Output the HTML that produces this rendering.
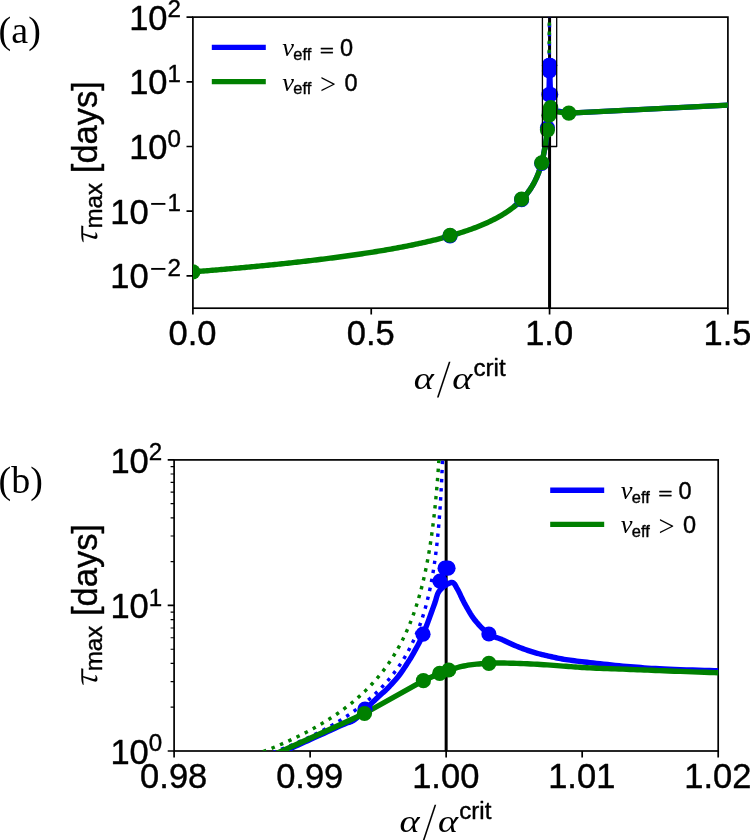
<!DOCTYPE html>
<html><head><meta charset="utf-8"><title>tau max vs alpha</title>
<style>html,body{margin:0;padding:0;background:#fff;overflow:hidden}svg{display:block}.tk{font-family:"Liberation Sans",Arial,sans-serif;fill:#000}.mi{font-family:"Liberation Serif","Times New Roman",serif;font-style:italic}.rm{font-family:"Liberation Serif","Times New Roman",serif}.dj{font-family:"DejaVu Sans",sans-serif}text.s{stroke:#000;stroke-width:0.40px;stroke-linejoin:round}</style></head><body>
<svg width="750" height="840" viewBox="0 0 750 840">
<rect width="750" height="840" fill="#fff"/>
<defs><clipPath id="ca"><rect x="192.90" y="17.10" width="535.00" height="291.10"/></clipPath>
<clipPath id="cb"><rect x="174.10" y="459.90" width="544.10" height="291.10"/></clipPath></defs>
<rect x="192.90" y="17.10" width="535.00" height="291.10" fill="none" stroke="#000" stroke-width="1.70"/>
<rect x="174.10" y="459.90" width="544.10" height="291.10" fill="none" stroke="#000" stroke-width="1.70"/>
<g clip-path="url(#ca)" fill="none" stroke-linejoin="round">
<line x1="549.57" y1="17.10" x2="549.57" y2="308.20" stroke="#000" stroke-width="3.00"/>
<polyline points="513.90,205.64 514.71,204.99 515.51,204.34 516.28,203.69 517.04,203.05 517.78,202.40 518.50,201.75 519.21,201.10 519.90,200.45 520.58,199.80 521.24,199.15 521.88,198.50 522.51,197.85 523.13,197.20 523.73,196.55 524.32,195.90 524.89,195.25 525.45,194.60 526.00,193.95 526.54,193.30 527.06,192.65 527.57,192.00 528.08,191.35 528.56,190.70 529.04,190.05 529.51,189.40 529.97,188.75 530.41,188.10 530.85,187.45 531.27,186.80 531.69,186.14 532.10,185.49 532.50,184.84 532.88,184.19 533.26,183.54 533.63,182.89 534.00,182.24 534.35,181.58 534.70,180.93 535.04,180.28 535.37,179.63 535.69,178.98 536.01,178.32 536.32,177.67 536.62,177.02 536.91,176.37 537.20,175.71 537.48,175.06 537.76,174.41 538.03,173.75 538.29,173.10 538.54,172.45 538.80,171.79 539.04,171.14 539.28,170.49 539.51,169.83 539.74,169.18 539.97,168.52 540.19,167.87 540.40,167.21 540.61,166.56 540.81,165.90 541.01,165.25 541.21,164.59 541.40,163.94 541.58,163.28 541.76,162.62 541.94,161.97 542.11,161.31 542.28,160.65 542.45,160.00 542.61,159.34 542.77,158.68 542.93,158.02 543.08,157.37 543.22,156.71 543.37,156.05 543.51,155.39 543.65,154.73 543.78,154.07 543.91,153.41 544.04,152.75 544.17,152.09 544.29,151.43 544.41,150.77 544.53,150.11 544.64,149.45 544.76,148.79 544.86,148.12 544.97,147.46 545.08,146.80 545.18,146.13 545.28,145.47 545.38,144.81 545.47,144.14 545.56,143.48 545.66,142.81 545.74,142.15 545.83,141.48 545.92,140.81 546.00,140.15 546.08,139.48 546.16,138.81 546.24,138.14 546.31,137.47 546.39,136.81 546.46,136.14 546.53,135.47 546.60,134.79 546.67,134.12 546.73,133.45 546.80,132.78 546.86,132.11 546.92,131.43 546.98,130.76 547.04,130.08 547.10,129.41 547.16,128.73 547.21,128.05 547.26,127.38 547.32,126.70 547.37,126.02 547.42,125.34 547.47,124.66 547.51,123.98 547.56,123.30 547.61,122.61 547.65,121.93 547.69,121.25 547.74,120.56 547.78,119.88 547.82,119.19 547.86,118.50 547.90,117.81 547.94,117.12 547.97,116.43 548.01,115.74 548.05,115.05 548.08,114.36 548.11,113.66 548.15,112.97 548.18,112.27 548.21,111.58 548.24,110.88 548.27,110.18 548.30,109.48 548.33,108.78 548.36,108.07 548.39,107.37 548.41,106.66 548.44,105.96 548.46,105.25 548.49,104.54 548.51,103.83 548.54,103.12 548.56,102.41 548.58,101.69 548.61,100.98 548.63,100.26 548.65,99.54 548.67,98.82 548.69,98.10 548.71,97.38 548.73,96.65 548.75,95.92 548.77,95.20 548.79,94.47 548.80,93.74 548.82,93.00 548.84,92.27 548.86,91.53 548.87,90.79 548.89,90.05 548.90,89.31 548.92,88.57 548.93,87.82 548.95,87.07 548.96,86.32 548.97,85.57 548.99,84.82 549.00,84.06 549.01,83.31 549.03,82.55 549.04,81.78 549.05,81.02 549.06,80.25 549.07,79.48 549.09,78.71 549.10,77.94 549.11,77.16 549.12,76.39 549.13,75.61 549.14,74.82 549.15,74.04 549.16,73.25 549.17,72.46 549.18,71.66 549.18,70.87 549.19,70.07 549.20,69.27 549.21,68.47 549.22,67.66 549.23,66.85 549.23,66.04 549.24,65.22 549.25,64.40 549.26,63.58 549.26,62.76 549.27,61.93 549.28,61.10 549.28,60.27 549.29,59.43 549.30,58.59 549.30,57.75 549.31,56.91 549.31,56.06 549.32,55.21 549.33,54.35 549.33,53.49 549.34,52.63 549.34,51.77 549.35,50.90 549.35,50.03 549.36,49.15 549.36,48.27 549.37,47.39 549.37,46.51 549.38,45.62 549.38,44.73 549.38,43.83 549.39,42.93 549.39,42.03 549.40,41.12 549.40,40.21 549.40,39.30 549.41,38.38 549.41,37.46 549.41,36.54 549.42,35.61 549.42,34.68 549.42,33.74 549.43,32.80 549.43,31.86 549.43,30.91 549.44,29.96 549.44,29.01 549.44,28.05 549.45,27.09 549.45,26.13 549.45,25.16 549.45,24.18 549.46,23.21 549.46,22.23 549.46,21.24 549.46,20.26 549.47,19.27 549.47,18.27 549.47,17.27 549.47,16.27 549.47,15.26 549.48,14.26 549.48,13.24 549.48,12.23 549.48,11.20 549.48,10.18 549.49,9.15 549.49,8.12 549.49,7.09 549.49,6.05 549.49,5.01 549.50,3.96 549.50,2.91 549.50,1.86 549.50,0.80 549.50,-0.26 549.50,-1.32 549.50,-2.39 549.51,-3.46 549.51,-4.53 549.51,-5.61 549.51,-6.69 549.51,-7.77 549.51,-8.85 549.51,-9.94 549.52,-11.04 549.52,-12.13 549.52,-13.23 549.52,-14.33 549.52,-15.44 549.52,-16.55 549.52,-17.66 549.52,-18.77 549.52,-19.89 549.52,-21.01 549.53,-22.13 549.53,-23.26 549.53,-24.39 549.53,-25.52 549.53,-26.65 549.53,-27.79 549.53,-28.93 549.53,-30.07 549.53,-31.22 549.53,-32.37 549.53,-33.52 549.53,-34.67 549.54,-35.83 549.54,-36.98 549.54,-38.15 549.54,-39.31 549.54,-40.47 549.54,-41.64 549.54,-42.81 549.54,-43.98 549.54,-45.16 549.54,-46.33 549.54,-47.51 549.54,-48.69 549.54,-49.88 549.54,-51.06 549.54,-52.25 549.54,-53.44 549.55,-54.63 549.55,-55.82 549.55,-57.02 549.55,-58.22 549.55,-59.42 549.55,-60.62 549.55,-61.82 549.55,-63.02 549.55,-64.23 549.55,-65.44 549.55,-66.65 549.55,-67.86 549.55,-69.07 549.55,-70.29 549.55,-71.50 549.55,-72.72 549.55,-73.94 549.55,-75.16 549.55,-76.38 549.55,-77.61 549.55,-78.83 549.55,-80.06 549.55,-81.29 549.55,-82.52 549.55,-83.75 549.55,-84.98 549.55,-86.21 549.56,-87.45 549.56,-88.68 549.56,-89.92 549.56,-91.16 549.56,-92.40 549.56,-93.64 549.56,-94.88 549.56,-96.12 549.56,-97.37 549.56,-98.61 549.56,-99.86 549.56,-101.10 549.56,-102.35 549.56,-103.60 549.56,-104.85 549.56,-106.10 549.56,-107.35 549.56,-108.60 549.56,-109.86 549.56,-111.11 549.56,-112.37 549.56,-113.62 549.56,-114.88 549.56,-116.14 549.56,-117.39 549.56,-118.65 549.56,-119.91 549.56,-121.17 549.56,-122.43 549.56,-123.70 549.56,-124.96 549.56,-126.22 549.56,-127.49 549.56,-128.75 549.56,-130.02 549.56,-131.28 549.56,-132.55 549.56,-133.82 549.56,-135.08 549.56,-136.35 549.56,-137.62 549.56,-138.89 549.56,-140.16 549.56,-141.43 549.56,-142.70 549.56,-143.97 549.56,-145.24 549.56,-146.52 549.56,-147.79 549.56,-149.06 549.56,-150.34 549.56,-151.61" stroke="#0000ff" stroke-width="3.44" stroke-dasharray="3.44 5.68" stroke-dashoffset="3.37"/>
<polyline points="513.90,206.31 514.71,205.65 515.51,204.99 516.28,204.34 517.04,203.68 517.78,203.01 518.50,202.35 519.21,201.69 519.90,201.03 520.58,200.37 521.24,199.71 521.88,199.05 522.51,198.38 523.13,197.72 523.73,197.06 524.32,196.39 524.89,195.73 525.45,195.07 526.00,194.40 526.54,193.74 527.06,193.07 527.57,192.40 528.08,191.74 528.56,191.07 529.04,190.40 529.51,189.74 529.97,189.07 530.41,188.40 530.85,187.73 531.27,187.06 531.69,186.39 532.10,185.72 532.50,185.05 532.88,184.38 533.26,183.70 533.63,183.03 534.00,182.36 534.35,181.68 534.70,181.01 535.04,180.33 535.37,179.66 535.69,178.98 536.01,178.30 536.32,177.62 536.62,176.95 536.91,176.27 537.20,175.59 537.48,174.91 537.76,174.22 538.03,173.54 538.29,172.86 538.54,172.17 538.80,171.49 539.04,170.80 539.28,170.12 539.51,169.43 539.74,168.74 539.97,168.05 540.19,167.36 540.40,166.67 540.61,165.98 540.81,165.29 541.01,164.59 541.21,163.90 541.40,163.20 541.58,162.50 541.76,161.81 541.94,161.11 542.11,160.41 542.28,159.71 542.45,159.00 542.61,158.30 542.77,157.59 542.93,156.89 543.08,156.18 543.22,155.47 543.37,154.76 543.51,154.05 543.65,153.34 543.78,152.62 543.91,151.91 544.04,151.19 544.17,150.47 544.29,149.75 544.41,149.03 544.53,148.31 544.64,147.59 544.76,146.86 544.86,146.13 544.97,145.40 545.08,144.67 545.18,143.94 545.28,143.20 545.38,142.47 545.47,141.73 545.56,140.99 545.66,140.25 545.74,139.51 545.83,138.76 545.92,138.01 546.00,137.26 546.08,136.51 546.16,135.76 546.24,135.00 546.31,134.25 546.39,133.49 546.46,132.73 546.53,131.96 546.60,131.20 546.67,130.43 546.73,129.66 546.80,128.88 546.86,128.11 546.92,127.33 546.98,126.55 547.04,125.77 547.10,124.98 547.16,124.20 547.21,123.40 547.26,122.61 547.32,121.82 547.37,121.02 547.42,120.22 547.47,119.41 547.51,118.61 547.56,117.80 547.61,116.99 547.65,116.17 547.69,115.36 547.74,114.54 547.78,113.71 547.82,112.89 547.86,112.06 547.90,111.22 547.94,110.39 547.97,109.55 548.01,108.71 548.05,107.86 548.08,107.02 548.11,106.17 548.15,105.31 548.18,104.45 548.21,103.59 548.24,102.73 548.27,101.86 548.30,100.99 548.33,100.12 548.36,99.24 548.39,98.36 548.41,97.47 548.44,96.58 548.46,95.69 548.49,94.80 548.51,93.90 548.54,93.00 548.56,92.09 548.58,91.18 548.61,90.27 548.63,89.35 548.65,88.43 548.67,87.51 548.69,86.58 548.71,85.65 548.73,84.72 548.75,83.78 548.77,82.84 548.79,81.89 548.80,80.94 548.82,79.99 548.84,79.03 548.86,78.07 548.87,77.10 548.89,76.14 548.90,75.16 548.92,74.19 548.93,73.21 548.95,72.23 548.96,71.24 548.97,70.25 548.99,69.26 549.00,68.26 549.01,67.26 549.03,66.25 549.04,65.24 549.05,64.23 549.06,63.21 549.07,62.19 549.09,61.17 549.10,60.14 549.11,59.11 549.12,58.08 549.13,57.04 549.14,56.00 549.15,54.95 549.16,53.91 549.17,52.85 549.18,51.80 549.18,50.74 549.19,49.68 549.20,48.61 549.21,47.54 549.22,46.47 549.23,45.39 549.23,44.31 549.24,43.23 549.25,42.15 549.26,41.06 549.26,39.97 549.27,38.87 549.28,37.77 549.28,36.67 549.29,35.57 549.30,34.46 549.30,33.35 549.31,32.23 549.31,31.12 549.32,30.00 549.33,28.87 549.33,27.75 549.34,26.62 549.34,25.49 549.35,24.36 549.35,23.22 549.36,22.08 549.36,20.94 549.37,19.79 549.37,18.64 549.38,17.49 549.38,16.34 549.38,15.19 549.39,14.03 549.39,12.87 549.40,11.71 549.40,10.54 549.40,9.37 549.41,8.21 549.41,7.03 549.41,5.86 549.42,4.68 549.42,3.50 549.42,2.32 549.43,1.14 549.43,-0.04 549.43,-1.23 549.44,-2.42 549.44,-3.61 549.44,-4.80 549.45,-6.00 549.45,-7.20 549.45,-8.39 549.45,-9.60 549.46,-10.80 549.46,-12.00 549.46,-13.21 549.46,-14.42 549.47,-15.62 549.47,-16.84 549.47,-18.05 549.47,-19.26 549.47,-20.48 549.48,-21.70 549.48,-22.92 549.48,-24.14 549.48,-25.36 549.48,-26.58 549.49,-27.81 549.49,-29.03 549.49,-30.26 549.49,-31.49 549.49,-32.72 549.50,-33.95 549.50,-35.18 549.50,-36.42 549.50,-37.65 549.50,-38.89 549.50,-40.13 549.50,-41.37 549.51,-42.61 549.51,-43.85 549.51,-45.09 549.51,-46.34 549.51,-47.58 549.51,-48.83 549.51,-50.07 549.52,-51.32 549.52,-52.57 549.52,-53.82 549.52,-55.07 549.52,-56.32 549.52,-57.57 549.52,-58.82 549.52,-60.08 549.52,-61.33 549.52,-62.59 549.53,-63.85 549.53,-65.10 549.53,-66.36 549.53,-67.62 549.53,-68.88 549.53,-70.14 549.53,-71.40 549.53,-72.66 549.53,-73.93 549.53,-75.19 549.53,-76.45 549.53,-77.72 549.54,-78.98 549.54,-80.25 549.54,-81.51 549.54,-82.78 549.54,-84.05 549.54,-85.32 549.54,-86.59 549.54,-87.85 549.54,-89.12 549.54,-90.40 549.54,-91.67 549.54,-92.94 549.54,-94.21 549.54,-95.48 549.54,-96.75 549.54,-98.03 549.55,-99.30 549.55,-100.58 549.55,-101.85 549.55,-103.12 549.55,-104.40 549.55,-105.68 549.55,-106.95 549.55,-108.23 549.55,-109.51 549.55,-110.78 549.55,-112.06 549.55,-113.34 549.55,-114.62 549.55,-115.90 549.55,-117.17 549.55,-118.45 549.55,-119.73 549.55,-121.01 549.55,-122.29 549.55,-123.58 549.55,-124.86 549.55,-126.14 549.55,-127.42 549.55,-128.70 549.55,-129.98 549.55,-131.27 549.55,-132.55 549.56,-133.83 549.56,-135.11 549.56,-136.40 549.56,-137.68 549.56,-138.96 549.56,-140.25 549.56,-141.53 549.56,-142.82 549.56,-144.10 549.56,-145.39 549.56,-146.67 549.56,-147.96 549.56,-149.24 549.56,-150.53 549.56,-151.81 549.56,-153.10 549.56,-154.39 549.56,-155.67 549.56,-156.96 549.56,-158.25 549.56,-159.53 549.56,-160.82 549.56,-162.11 549.56,-163.39 549.56,-164.68 549.56,-165.97 549.56,-167.26 549.56,-168.54 549.56,-169.83 549.56,-171.12 549.56,-172.41 549.56,-173.70 549.56,-174.99 549.56,-176.27 549.56,-177.56 549.56,-178.85 549.56,-180.14 549.56,-181.43 549.56,-182.72 549.56,-184.01 549.56,-185.30 549.56,-186.59 549.56,-187.88 549.56,-189.17 549.56,-190.46 549.56,-191.75 549.56,-193.04 549.56,-194.33 549.56,-195.62 549.56,-196.91 549.56,-198.20 549.56,-199.49" stroke="#008000" stroke-width="3.44" stroke-dasharray="3.44 5.68" stroke-dashoffset="1.59"/>
<polyline points="513.90,206.78 514.26,206.50 514.61,206.21 514.97,205.92 515.33,205.62 515.68,205.32 516.04,205.02 516.40,204.71 516.75,204.40 517.11,204.09 517.47,203.78 517.82,203.46 518.18,203.13 518.54,202.81 518.89,202.48 519.25,202.14 519.61,201.80 519.96,201.46 520.32,201.12 520.68,200.76 521.03,200.41 521.39,200.05 521.75,199.68 522.10,199.31 522.46,198.94 522.82,198.56 523.17,198.18 523.53,197.79 523.89,197.39 524.24,196.99 524.60,196.58 524.96,196.17 525.31,195.75 525.67,195.32 526.03,194.89 526.38,194.45 526.74,194.01 527.10,193.55 527.45,193.09 527.81,192.63 528.17,192.15 528.52,191.67 528.88,191.17 529.24,190.67 529.59,190.16 529.95,189.64 530.31,189.11 530.66,188.57 531.02,188.02 531.38,187.46 531.73,186.89 532.09,186.30 532.45,185.70 532.80,185.09 533.16,184.47 533.52,183.83 533.87,183.18 534.23,182.51 534.59,181.83 534.94,181.13 535.30,180.41 535.66,179.67 536.01,178.91 536.37,178.13 536.73,177.33 537.08,176.51 537.44,175.66 537.80,174.78 538.15,173.88 538.51,172.94 538.87,171.98 539.22,170.98 539.58,169.94 539.94,168.87 540.29,167.75 540.65,166.58 541.01,165.37 541.36,164.10 541.72,162.77 542.08,161.37 542.43,159.91 542.79,158.36 543.15,156.72 543.50,154.99 543.86,153.14 544.22,151.16 544.57,149.04 544.93,146.74 545.13,148.02 545.17,147.74 545.21,147.42 545.26,147.06 545.32,146.63 545.38,146.15 545.45,145.61 545.53,145.04 545.61,144.44 545.69,143.81 545.77,143.18 545.85,142.54 545.93,141.90 546.02,141.28 546.10,140.64 546.19,139.97 546.28,139.27 546.37,138.56 546.46,137.85 546.55,137.16 546.64,136.49 546.72,135.88 546.79,135.32 546.85,134.83 546.91,134.45 546.95,134.16 546.99,133.95 547.02,133.78 547.04,133.64 547.07,133.49 547.09,133.32 547.11,133.10 547.14,132.80 547.18,132.39 547.22,131.87 547.26,131.25 547.30,130.55 547.35,129.80 547.39,129.03 547.44,128.24 547.48,127.48 547.52,126.75 547.56,126.08 547.60,125.50 547.63,124.99 547.66,124.54 547.68,124.13 547.70,123.75 547.73,123.39 547.75,123.06 547.77,122.73 547.79,122.41 547.81,122.07 547.83,121.72 547.85,121.37 547.88,121.04 547.90,120.73 547.92,120.42 547.94,120.11 547.96,119.79 547.98,119.45 548.00,119.10 548.03,118.72 548.05,118.30 548.08,117.85 548.10,117.36 548.13,116.85 548.16,116.32 548.19,115.77 548.22,115.22 548.25,114.66 548.27,114.10 548.30,113.55 548.33,113.01 548.35,112.48 548.37,111.95 548.39,111.42 548.42,110.90 548.44,110.37 548.46,109.84 548.48,109.31 548.50,108.78 548.52,108.25 548.54,107.72 548.56,107.21 548.58,106.71 548.60,106.22 548.62,105.74 548.63,105.25 548.65,104.74 548.67,104.22 548.69,103.66 548.71,103.07 548.73,102.43 548.75,101.77 548.77,101.09 548.80,100.39 548.82,99.67 548.84,98.91 548.87,98.12 548.89,97.28 548.92,96.39 548.94,95.45 548.97,94.43 548.99,93.31 549.02,92.06 549.05,90.70 549.09,89.29 549.12,87.86 549.15,86.43 549.18,85.04 549.20,83.74 549.23,82.54 549.25,81.50 549.27,80.59 549.29,79.79 549.30,79.06 549.31,78.41 549.32,77.81 549.33,77.26 549.34,76.75 549.36,76.25 549.37,75.77 549.39,75.28 549.42,74.78 549.45,74.27 549.48,73.78 549.51,73.31 549.55,72.87 549.58,72.47 549.62,72.14 549.65,71.87 549.68,71.68 549.71,71.59 549.73,71.59 549.75,71.68 549.76,71.84 549.78,72.07 549.79,72.36 549.80,72.71 549.82,73.09 549.83,73.52 549.84,73.96 549.86,74.43 549.88,74.94 549.89,75.51 549.91,76.13 549.93,76.79 549.95,77.49 549.97,78.21 549.99,78.93 550.01,79.67 550.03,80.39 550.06,81.10 550.08,81.81 550.10,82.54 550.13,83.28 550.15,84.03 550.18,84.78 550.21,85.53 550.23,86.27 550.26,87.00 550.29,87.71 550.32,88.39 550.36,89.06 550.39,89.74 550.43,90.42 550.46,91.08 550.50,91.73 550.54,92.36 550.58,92.95 550.61,93.51 550.65,94.02 550.69,94.48 550.72,94.87 550.76,95.19 550.79,95.47 550.82,95.70 550.86,95.90 550.89,96.09 550.92,96.28 550.96,96.48 550.99,96.71 551.03,96.97 551.07,97.26 551.11,97.57 551.15,97.90 551.19,98.23 551.24,98.57 551.28,98.90 551.32,99.24 551.37,99.56 551.41,99.87 551.45,100.17 551.49,100.45 551.53,100.72 551.58,100.99 551.62,101.25 551.66,101.50 551.70,101.75 551.74,101.98 551.79,102.21 551.83,102.44 551.87,102.66 551.91,102.86 551.95,103.06 552.00,103.25 552.04,103.43 552.08,103.61 552.12,103.78 552.16,103.95 552.21,104.11 552.25,104.27 552.29,104.43 552.33,104.59 552.37,104.74 552.41,104.89 552.45,105.03 552.49,105.17 552.53,105.31 552.57,105.45 552.61,105.58 552.66,105.72 552.71,105.86 552.76,105.99 552.82,106.12 552.87,106.25 552.93,106.38 552.99,106.51 553.05,106.63 553.12,106.77 553.19,106.90 553.26,107.04 553.34,107.19 553.42,107.35 553.51,107.51 553.60,107.69 553.70,107.86 553.80,108.04 553.90,108.22 554.00,108.40 554.10,108.57 554.20,108.73 554.30,108.88 554.39,109.02 554.49,109.15 554.58,109.27 554.67,109.40 554.76,109.51 554.85,109.62 554.95,109.73 555.05,109.83 555.16,109.93 555.28,110.03 555.41,110.13 555.55,110.23 555.71,110.32 555.87,110.41 556.03,110.49 556.19,110.58 556.34,110.65 556.48,110.72 556.60,110.78 556.69,110.83 556.77,110.88 556.83,110.91 556.88,110.94 556.92,110.96 556.94,110.97 556.96,110.98 556.97,110.99 556.98,111.00 557.00,111.00 557.01,111.01 568.83,113.11 727.90,105.17 763.57,104.54" stroke="#0000ff" stroke-width="5.40"/>
<polyline points="192.90,271.86 194.68,271.72 196.47,271.58 198.25,271.44 200.03,271.29 201.82,271.15 203.60,271.00 205.38,270.86 207.17,270.71 208.95,270.57 210.73,270.42 212.52,270.27 214.30,270.12 216.08,269.97 217.87,269.82 219.65,269.67 221.43,269.51 223.22,269.36 225.00,269.21 226.78,269.05 228.57,268.90 230.35,268.74 232.13,268.58 233.92,268.42 235.70,268.26 237.48,268.10 239.27,267.94 241.05,267.78 242.83,267.62 244.62,267.45 246.40,267.29 248.18,267.12 249.97,266.95 251.75,266.79 253.53,266.62 255.32,266.45 257.10,266.28 258.88,266.10 260.67,265.93 262.45,265.76 264.23,265.58 266.02,265.40 267.80,265.23 269.58,265.05 271.37,264.87 273.15,264.69 274.93,264.51 276.72,264.32 278.50,264.14 280.28,263.95 282.07,263.76 283.85,263.58 285.63,263.39 287.42,263.20 289.20,263.00 290.98,262.81 292.77,262.62 294.55,262.42 296.33,262.22 298.12,262.02 299.90,261.82 301.68,261.62 303.47,261.42 305.25,261.21 307.03,261.01 308.82,260.80 310.60,260.59 312.38,260.38 314.17,260.17 315.95,259.95 317.73,259.74 319.52,259.52 321.30,259.30 323.08,259.08 324.87,258.86 326.65,258.63 328.43,258.40 330.22,258.18 332.00,257.95 333.78,257.71 335.57,257.48 337.35,257.25 339.13,257.01 340.92,256.77 342.70,256.53 344.48,256.28 346.27,256.04 348.05,255.79 349.83,255.54 351.62,255.29 353.40,255.03 355.18,254.77 356.97,254.51 358.75,254.25 360.53,253.99 362.32,253.72 364.10,253.45 365.88,253.18 367.67,252.90 369.45,252.63 371.23,252.34 373.02,252.06 374.80,251.78 376.58,251.49 378.37,251.19 380.15,250.90 381.93,250.60 383.72,250.30 385.50,249.99 387.28,249.69 389.07,249.37 390.85,249.06 392.63,248.74 394.42,248.42 396.20,248.09 397.98,247.76 399.77,247.43 401.55,247.09 403.33,246.75 405.12,246.40 406.90,246.05 408.68,245.70 410.47,245.34 412.25,244.98 414.03,244.61 415.82,244.23 417.60,243.85 419.38,243.47 421.17,243.08 422.95,242.69 424.73,242.29 426.52,241.88 428.30,241.47 430.08,241.05 431.87,240.63 433.65,240.20 435.43,239.76 437.22,239.31 439.00,238.86 440.78,238.40 442.57,237.94 444.35,237.46 446.13,236.98 447.92,236.49 449.70,235.99 451.48,235.48 453.27,234.96 455.05,234.43 456.83,233.89 458.62,233.34 460.40,232.78 462.18,232.21 463.97,231.63 465.75,231.04 467.53,230.43 469.32,229.81 471.10,229.17 472.88,228.52 474.67,227.85 476.45,227.17 478.23,226.47 480.02,225.76 481.80,225.02 483.58,224.26 485.37,223.49 487.15,222.69 488.93,221.87 490.72,221.02 492.50,220.15 494.28,219.25 496.07,218.32 497.85,217.36 499.63,216.36 501.42,215.33 503.20,214.25 504.98,213.14 506.77,211.98 508.55,210.77 510.33,209.50 512.12,208.18 513.90,206.78 514.26,206.50 514.61,206.21 514.97,205.92 515.33,205.62 515.68,205.32 516.04,205.02 516.40,204.71 516.75,204.40 517.11,204.09 517.47,203.78 517.82,203.46 518.18,203.13 518.54,202.81 518.89,202.48 519.25,202.14 519.61,201.80 519.96,201.46 520.32,201.12 520.68,200.76 521.03,200.41 521.39,200.05 521.75,199.68 522.10,199.31 522.46,198.94 522.82,198.56 523.17,198.18 523.53,197.79 523.89,197.39 524.24,196.99 524.60,196.58 524.96,196.17 525.31,195.75 525.67,195.32 526.03,194.89 526.38,194.45 526.74,194.01 527.10,193.55 527.45,193.09 527.81,192.63 528.17,192.15 528.52,191.67 528.88,191.17 529.24,190.67 529.59,190.16 529.95,189.64 530.31,189.11 530.66,188.57 531.02,188.02 531.38,187.46 531.73,186.89 532.09,186.30 532.45,185.70 532.80,185.09 533.16,184.47 533.52,183.83 533.87,183.18 534.23,182.51 534.59,181.83 534.94,181.13 535.30,180.41 535.66,179.67 536.01,178.91 536.37,178.13 536.73,177.33 537.08,176.51 537.44,175.66 537.80,174.78 538.15,173.88 538.51,172.94 538.87,171.98 539.22,170.98 539.58,169.94 539.94,168.87 540.29,167.75 540.65,166.58 541.01,165.37 541.36,164.10 541.72,162.77 542.08,161.37 542.43,159.91 542.79,158.36 543.15,156.72 543.50,154.99 543.86,153.14 544.22,151.16 544.57,149.04 544.95,148.92 545.26,146.48 546.02,140.70 546.85,134.26 547.43,129.81 548.97,115.23 549.40,111.94 549.41,111.86 549.43,111.76 549.44,111.63 549.46,111.50 549.48,111.34 549.51,111.18 549.54,111.01 549.57,110.84 549.60,110.66 549.63,110.48 549.67,110.29 549.72,110.07 549.76,109.85 549.81,109.61 549.87,109.37 549.92,109.14 549.98,108.91 550.03,108.70 550.09,108.51 550.14,108.34 550.19,108.20 550.25,108.08 550.31,107.97 550.37,107.88 550.42,107.80 550.48,107.72 550.54,107.66 550.59,107.60 550.64,107.55 550.69,107.50 550.73,107.46 550.76,107.42 550.79,107.39 550.82,107.37 550.84,107.35 550.87,107.34 550.90,107.34 550.93,107.34 550.98,107.35 551.03,107.37 551.09,107.39 551.17,107.42 551.25,107.45 551.33,107.49 551.42,107.54 551.51,107.59 551.60,107.65 551.69,107.72 551.78,107.78 551.87,107.86 551.96,107.93 552.04,108.02 552.13,108.12 552.22,108.22 552.30,108.33 552.39,108.44 552.47,108.54 552.55,108.65 552.63,108.74 552.71,108.83 552.78,108.92 552.84,108.99 552.90,109.07 552.96,109.14 553.02,109.21 553.07,109.28 553.13,109.35 553.19,109.41 553.26,109.48 553.34,109.54 553.42,109.61 553.51,109.67 553.60,109.74 553.70,109.80 553.80,109.86 553.90,109.92 554.00,109.98 554.10,110.04 554.20,110.10 554.30,110.17 554.39,110.23 554.49,110.29 554.58,110.36 554.67,110.42 554.76,110.48 554.85,110.55 554.95,110.62 555.05,110.69 555.16,110.76 555.28,110.83 555.41,110.92 555.55,111.01 555.71,111.11 555.87,111.21 556.03,111.31 556.19,111.41 556.34,111.50 556.48,111.59 556.60,111.66 556.69,111.72 556.77,111.77 556.83,111.81 556.88,111.83 556.92,111.85 556.94,111.87 556.96,111.88 556.97,111.88 556.98,111.89 557.00,111.89 557.01,111.90 568.83,113.11 727.90,105.17 763.57,104.54" stroke="#008000" stroke-width="5.40"/>
<circle cx="450.06" cy="235.87" r="7.60" fill="#0000ff"/><circle cx="521.60" cy="199.64" r="7.60" fill="#0000ff"/><circle cx="541.72" cy="163.37" r="7.60" fill="#0000ff"/>
<circle cx="547.44" cy="127.81" r="7.60" fill="#0000ff"/><circle cx="548.96" cy="94.57" r="7.60" fill="#0000ff"/><circle cx="549.41" cy="70.97" r="7.60" fill="#0000ff"/><circle cx="549.54" cy="65.23" r="7.60" fill="#0000ff"/><circle cx="549.62" cy="65.23" r="7.60" fill="#0000ff"/><circle cx="550.69" cy="94.48" r="7.60" fill="#0000ff"/>
<circle cx="192.90" cy="271.86" r="7.60" fill="#008000"/><circle cx="450.06" cy="235.27" r="7.60" fill="#008000"/><circle cx="521.60" cy="199.04" r="7.60" fill="#008000"/><circle cx="541.72" cy="162.77" r="7.60" fill="#008000"/><circle cx="568.83" cy="113.11" r="7.60" fill="#008000"/>
<circle cx="547.43" cy="129.81" r="7.60" fill="#008000"/><circle cx="548.97" cy="115.23" r="7.60" fill="#008000"/><circle cx="549.40" cy="111.94" r="7.60" fill="#008000"/><circle cx="549.63" cy="110.48" r="7.60" fill="#008000"/><circle cx="550.69" cy="107.50" r="7.60" fill="#008000"/>
<rect x="542.43" y="17.10" width="14.27" height="129.38" fill="none" stroke="#000" stroke-width="1.30"/>
</g>
<g clip-path="url(#cb)" fill="none" stroke-linejoin="round">
<line x1="446.15" y1="459.90" x2="446.15" y2="751.00" stroke="#000" stroke-width="3.00"/>
<polyline points="38.07,807.54 44.55,806.52 50.92,805.49 57.19,804.47 63.36,803.45 69.43,802.43 75.41,801.41 81.29,800.38 87.08,799.36 92.78,798.34 98.38,797.31 103.90,796.29 109.33,795.27 114.68,794.24 119.93,793.22 125.11,792.19 130.20,791.17 135.22,790.14 140.15,789.12 145.00,788.09 149.78,787.07 154.48,786.04 159.11,785.01 163.66,783.99 168.15,782.96 172.56,781.93 176.90,780.91 181.17,779.88 185.37,778.85 189.51,777.83 193.58,776.80 197.59,775.77 201.53,774.74 205.41,773.71 209.23,772.68 212.99,771.65 216.69,770.62 220.33,769.59 223.91,768.56 227.44,767.53 230.91,766.50 234.32,765.47 237.68,764.44 240.99,763.41 244.25,762.37 247.45,761.34 250.60,760.31 253.70,759.27 256.76,758.24 259.76,757.21 262.72,756.17 265.63,755.14 268.49,754.10 271.31,753.07 274.09,752.03 276.82,750.99 279.50,749.96 282.15,748.92 284.75,747.88 287.31,746.84 289.83,745.81 292.31,744.77 294.75,743.73 297.15,742.69 299.52,741.65 301.84,740.61 304.13,739.57 306.38,738.52 308.60,737.48 310.78,736.44 312.93,735.40 315.05,734.35 317.13,733.31 319.17,732.26 321.19,731.22 323.17,730.17 325.12,729.13 327.04,728.08 328.93,727.03 330.79,725.99 332.62,724.94 334.42,723.89 336.19,722.84 337.94,721.79 339.66,720.74 341.34,719.69 343.01,718.63 344.64,717.58 346.25,716.53 347.84,715.47 349.40,714.42 350.93,713.36 352.44,712.31 353.93,711.25 355.39,710.19 356.83,709.14 358.25,708.08 359.65,707.02 361.02,705.96 362.37,704.90 363.70,703.83 365.01,702.77 366.29,701.71 367.56,700.64 368.81,699.58 370.03,698.51 371.24,697.45 372.43,696.38 373.60,695.31 374.75,694.24 375.88,693.17 377.00,692.10 378.10,691.03 379.18,689.96 380.24,688.88 381.28,687.81 382.31,686.73 383.33,685.65 384.32,684.58 385.30,683.50 386.27,682.42 387.22,681.34 388.15,680.26 389.07,679.17 389.98,678.09 390.87,677.00 391.75,675.92 392.61,674.83 393.46,673.74 394.30,672.65 395.12,671.56 395.93,670.47 396.72,669.38 397.51,668.28 398.28,667.19 399.04,666.09 399.79,664.99 400.52,663.89 401.25,662.79 401.96,661.69 402.66,660.59 403.35,659.48 404.03,658.38 404.70,657.27 405.36,656.16 406.00,655.05 406.64,653.94 407.27,652.82 407.88,651.71 408.49,650.59 409.09,649.48 409.68,648.36 410.25,647.24 410.82,646.11 411.38,644.99 411.94,643.86 412.48,642.74 413.01,641.61 413.54,640.48 414.06,639.35 414.57,638.21 415.07,637.08 415.56,635.94 416.04,634.80 416.52,633.66 416.99,632.52 417.45,631.37 417.91,630.23 418.36,629.08 418.80,627.93 419.23,626.77 419.66,625.62 420.08,624.46 420.49,623.31 420.90,622.15 421.30,620.98 421.70,619.82 422.08,618.65 422.47,617.48 422.84,616.31 423.21,615.14 423.58,613.97 423.93,612.79 424.29,611.61 424.63,610.43 424.97,609.24 425.31,608.06 425.64,606.87 425.97,605.68 426.29,604.48 426.60,603.29 426.91,602.09 427.22,600.89 427.52,599.69 427.81,598.48 428.10,597.27 428.39,596.06 428.67,594.85 428.95,593.63 429.22,592.41 429.49,591.19 429.75,589.97 430.01,588.74 430.27,587.51 430.52,586.28 430.77,585.05 431.01,583.81 431.25,582.57 431.49,581.33 431.72,580.08 431.95,578.83 432.18,577.58 432.40,576.32 432.62,575.07 432.83,573.80 433.04,572.54 433.25,571.27 433.46,570.00 433.66,568.73 433.86,567.45 434.05,566.18 434.24,564.89 434.43,563.61 434.62,562.32 434.80,561.03 434.98,559.73 435.16,558.43 435.33,557.13 435.50,555.82 435.67,554.52 435.84,553.20 436.00,551.89 436.16,550.57 436.32,549.25 436.48,547.92 436.63,546.59 436.78,545.26 436.93,543.92 437.08,542.58 437.22,541.24 437.36,539.89 437.50,538.54 437.64,537.19 437.77,535.83 437.91,534.47 438.04,533.10 438.17,531.74 438.29,530.36 438.42,528.99 438.54,527.61 438.66,526.22 438.78,524.84 438.90,523.44 439.01,522.05 439.13,520.65 439.24,519.25 439.35,517.84 439.45,516.43 439.56,515.02 439.67,513.60 439.77,512.18 439.87,510.75 439.97,509.32 440.07,507.89 440.16,506.45 440.26,505.01 440.35,503.56 440.44,502.11 440.53,500.66 440.62,499.20 440.71,497.74 440.80,496.27 440.88,494.80 440.97,493.33 441.05,491.85 441.13,490.37 441.21,488.89 441.29,487.40 441.36,485.90 441.44,484.40 441.52,482.90 441.59,481.40 441.66,479.89 441.73,478.37 441.80,476.86 441.87,475.33 441.94,473.81 442.01,472.28 442.07,470.74 442.14,469.20 442.20,467.66 442.26,466.12 442.32,464.57 442.39,463.01 442.44,461.45 442.50,459.89 442.56,458.33 442.62,456.76 442.67,455.18 442.73,453.60 442.78,452.02 442.84,450.43 442.89,448.84 442.94,447.25 442.99,445.65 443.04,444.05 443.09,442.44 443.14,440.83 443.19,439.22 443.24,437.60 443.28,435.98 443.33,434.36 443.37,432.73 443.42,431.09 443.46,429.46 443.50,427.82 443.54,426.17 443.59,424.52 443.63,422.87 443.67,421.22 443.71,419.56 443.74,417.89 443.78,416.23 443.82,414.56 443.86,412.88 443.89,411.20 443.93,409.52 443.96,407.84 444.00,406.15 444.03,404.46 444.07,402.76 444.10,401.06 444.13,399.36 444.16,397.65 444.20,395.94 444.23,394.23 444.26,392.51 444.29,390.79 444.32,389.07 444.35,387.34 444.37,385.61 444.40,383.88 444.43,382.14 444.46,380.40 444.48,378.66 444.51,376.92 444.54,375.17 444.56,373.41 444.59,371.66 444.61,369.90 444.64,368.14 444.66,366.37 444.68,364.60 444.71,362.83 444.73,361.06 444.75,359.28 444.78,357.50 444.80,355.72 444.82,353.93 444.84,352.14 444.86,350.35 444.88,348.56 444.90,346.76 444.92,344.96 444.94,343.16 444.96,341.35 444.98,339.54 445.00,337.73 445.02,335.92 445.03,334.10 445.05,332.28 445.07,330.46 445.09,328.64 445.10,326.81 445.12,324.98 445.14,323.15 445.15,321.32 445.17,319.48 445.18,317.64 445.20,315.80 445.21,313.96 445.23,312.11 445.24,310.26 445.26,308.41 445.27,306.56 445.29,304.70 445.30,302.85 445.31,300.99 445.33,299.13 445.34,297.26 445.35,295.40 445.36,293.53 445.38,291.66 445.39,289.79 445.40,287.91 445.41,286.04 445.42,284.16 445.44,282.28 445.45,280.40 445.46,278.51 445.47,276.63" stroke="#0000ff" stroke-width="3.44" stroke-dasharray="3.44 5.68" stroke-dashoffset="4.90"/>
<polyline points="38.07,806.83 44.55,805.76 50.92,804.69 57.19,803.61 63.36,802.54 69.43,801.46 75.41,800.39 81.29,799.31 87.08,798.23 92.78,797.15 98.38,796.07 103.90,794.99 109.33,793.91 114.68,792.83 119.93,791.74 125.11,790.65 130.20,789.57 135.22,788.48 140.15,787.39 145.00,786.30 149.78,785.21 154.48,784.12 159.11,783.02 163.66,781.93 168.15,780.83 172.56,779.73 176.90,778.64 181.17,777.54 185.37,776.43 189.51,775.33 193.58,774.23 197.59,773.12 201.53,772.01 205.41,770.91 209.23,769.80 212.99,768.69 216.69,767.57 220.33,766.46 223.91,765.34 227.44,764.23 230.91,763.11 234.32,761.99 237.68,760.87 240.99,759.74 244.25,758.62 247.45,757.49 250.60,756.36 253.70,755.23 256.76,754.10 259.76,752.97 262.72,751.83 265.63,750.70 268.49,749.56 271.31,748.42 274.09,747.28 276.82,746.13 279.50,744.99 282.15,743.84 284.75,742.69 287.31,741.54 289.83,740.38 292.31,739.23 294.75,738.07 297.15,736.91 299.52,735.75 301.84,734.59 304.13,733.42 306.38,732.25 308.60,731.08 310.78,729.91 312.93,728.74 315.05,727.56 317.13,726.38 319.17,725.20 321.19,724.02 323.17,722.83 325.12,721.65 327.04,720.46 328.93,719.26 330.79,718.07 332.62,716.87 334.42,715.67 336.19,714.47 337.94,713.27 339.66,712.06 341.34,710.85 343.01,709.64 344.64,708.42 346.25,707.20 347.84,705.98 349.40,704.76 350.93,703.54 352.44,702.31 353.93,701.08 355.39,699.84 356.83,698.61 358.25,697.37 359.65,696.13 361.02,694.88 362.37,693.63 363.70,692.38 365.01,691.13 366.29,689.87 367.56,688.61 368.81,687.35 370.03,686.08 371.24,684.81 372.43,683.54 373.60,682.27 374.75,680.99 375.88,679.71 377.00,678.42 378.10,677.14 379.18,675.85 380.24,674.55 381.28,673.25 382.31,671.95 383.33,670.65 384.32,669.34 385.30,668.03 386.27,666.72 387.22,665.40 388.15,664.08 389.07,662.75 389.98,661.43 390.87,660.10 391.75,658.76 392.61,657.42 393.46,656.08 394.30,654.73 395.12,653.39 395.93,652.03 396.72,650.68 397.51,649.32 398.28,647.95 399.04,646.59 399.79,645.21 400.52,643.84 401.25,642.46 401.96,641.08 402.66,639.69 403.35,638.30 404.03,636.91 404.70,635.51 405.36,634.11 406.00,632.71 406.64,631.30 407.27,629.88 407.88,628.47 408.49,627.05 409.09,625.62 409.68,624.20 410.25,622.76 410.82,621.33 411.38,619.89 411.94,618.44 412.48,616.99 413.01,615.54 413.54,614.09 414.06,612.63 414.57,611.16 415.07,609.69 415.56,608.22 416.04,606.75 416.52,605.27 416.99,603.78 417.45,602.29 417.91,600.80 418.36,599.31 418.80,597.81 419.23,596.30 419.66,594.79 420.08,593.28 420.49,591.76 420.90,590.24 421.30,588.72 421.70,587.19 422.08,585.66 422.47,584.12 422.84,582.58 423.21,581.04 423.58,579.49 423.93,577.94 424.29,576.38 424.63,574.82 424.97,573.25 425.31,571.69 425.64,570.11 425.97,568.54 426.29,566.96 426.60,565.37 426.91,563.78 427.22,562.19 427.52,560.59 427.81,558.99 428.10,557.39 428.39,555.78 428.67,554.17 428.95,552.55 429.22,550.93 429.49,549.31 429.75,547.68 430.01,546.05 430.27,544.41 430.52,542.78 430.77,541.13 431.01,539.49 431.25,537.84 431.49,536.18 431.72,534.52 431.95,532.86 432.18,531.20 432.40,529.53 432.62,527.85 432.83,526.18 433.04,524.50 433.25,522.81 433.46,521.13 433.66,519.44 433.86,517.74 434.05,516.04 434.24,514.34 434.43,512.64 434.62,510.93 434.80,509.22 434.98,507.50 435.16,505.78 435.33,504.06 435.50,502.34 435.67,500.61 435.84,498.88 436.00,497.14 436.16,495.40 436.32,493.66 436.48,491.92 436.63,490.17 436.78,488.42 436.93,486.66 437.08,484.90 437.22,483.14 437.36,481.38 437.50,479.61 437.64,477.84 437.77,476.07 437.91,474.29 438.04,472.51 438.17,470.73 438.29,468.95 438.42,467.16 438.54,465.37 438.66,463.58 438.78,461.78 438.90,459.98 439.01,458.18 439.13,456.37 439.24,454.57 439.35,452.76 439.45,450.95 439.56,449.13 439.67,447.31 439.77,445.49 439.87,443.67 439.97,441.84 440.07,440.02 440.16,438.18 440.26,436.35 440.35,434.52 440.44,432.68 440.53,430.84 440.62,429.00 440.71,427.15 440.80,425.30 440.88,423.45 440.97,421.60 441.05,419.75 441.13,417.89 441.21,416.03 441.29,414.17 441.36,412.31 441.44,410.44 441.52,408.58 441.59,406.71 441.66,404.84 441.73,402.96 441.80,401.09 441.87,399.21 441.94,397.33 442.01,395.45 442.07,393.57 442.14,391.68 442.20,389.80 442.26,387.91 442.32,386.02 442.39,384.12 442.44,382.23 442.50,380.33 442.56,378.44 442.62,376.54 442.67,374.63 442.73,372.73 442.78,370.83 442.84,368.92 442.89,367.01 442.94,365.10 442.99,363.19 443.04,361.28 443.09,359.37 443.14,357.45 443.19,355.53 443.24,353.61 443.28,351.69 443.33,349.77 443.37,347.85 443.42,345.93 443.46,344.00 443.50,342.07 443.54,340.14 443.59,338.21 443.63,336.28 443.67,334.35 443.71,332.42 443.74,330.48 443.78,328.55 443.82,326.61 443.86,324.67 443.89,322.73 443.93,320.79 443.96,318.84 444.00,316.90 444.03,314.96 444.07,313.01 444.10,311.06 444.13,309.12 444.16,307.17 444.20,305.22 444.23,303.26 444.26,301.31 444.29,299.36 444.32,297.40 444.35,295.45 444.37,293.49 444.40,291.54 444.43,289.58 444.46,287.62 444.48,285.66 444.51,283.70 444.54,281.73 444.56,279.77 444.59,277.81 444.61,275.84 444.64,273.88 444.66,271.91 444.68,269.94 444.71,267.98 444.73,266.01 444.75,264.04 444.78,262.07 444.80,260.10 444.82,258.12 444.84,256.15 444.86,254.18 444.88,252.20 444.90,250.23 444.92,248.25 444.94,246.28 444.96,244.30 444.98,242.32 445.00,240.34 445.02,238.37 445.03,236.39 445.05,234.41 445.07,232.42 445.09,230.44 445.10,228.46 445.12,226.48 445.14,224.50 445.15,222.51 445.17,220.53 445.18,218.54 445.20,216.56 445.21,214.57 445.23,212.58 445.24,210.60 445.26,208.61 445.27,206.62 445.29,204.63 445.30,202.64 445.31,200.65 445.33,198.66 445.34,196.67 445.35,194.68 445.36,192.69 445.38,190.70 445.39,188.70 445.40,186.71 445.41,184.72 445.42,182.72 445.44,180.73 445.45,178.73 445.46,176.74 445.47,174.74" stroke="#008000" stroke-width="3.44" stroke-dasharray="3.44 5.68" stroke-dashoffset="5.04"/>
<polyline points="270.00,757.00 270.64,756.76 271.36,756.49 272.19,756.20 273.13,755.86 274.21,755.46 275.42,755.00 276.79,754.47 278.34,753.85 280.07,753.13 282.00,752.30 284.18,751.34 286.62,750.26 289.28,749.06 292.12,747.77 295.10,746.41 298.18,745.01 301.32,743.57 304.48,742.13 307.62,740.70 310.70,739.30 313.85,737.87 317.20,736.35 320.68,734.78 324.21,733.18 327.73,731.58 331.16,730.02 334.44,728.54 337.51,727.15 340.28,725.89 342.70,724.80 344.71,723.93 346.36,723.28 347.72,722.80 348.86,722.43 349.85,722.11 350.76,721.79 351.66,721.40 352.62,720.90 353.71,720.21 355.00,719.30 356.48,718.12 358.08,716.73 359.75,715.16 361.47,713.48 363.21,711.74 364.93,709.98 366.60,708.25 368.19,706.61 369.67,705.11 371.00,703.80 372.19,702.66 373.26,701.64 374.24,700.71 375.14,699.86 375.98,699.06 376.79,698.31 377.57,697.57 378.36,696.84 379.16,696.09 380.00,695.30 380.85,694.52 381.67,693.78 382.47,693.06 383.26,692.36 384.06,691.66 384.86,690.94 385.67,690.19 386.51,689.40 387.38,688.54 388.30,687.60 389.27,686.58 390.30,685.49 391.36,684.34 392.45,683.14 393.56,681.91 394.66,680.66 395.75,679.40 396.81,678.15 397.83,676.91 398.80,675.70 399.72,674.51 400.60,673.32 401.46,672.13 402.29,670.94 403.11,669.75 403.90,668.56 404.69,667.37 405.46,666.18 406.23,664.99 407.00,663.80 407.75,662.64 408.47,661.52 409.17,660.42 409.86,659.33 410.54,658.23 411.23,657.10 411.93,655.92 412.65,654.67 413.41,653.34 414.20,651.90 415.02,650.40 415.87,648.87 416.73,647.30 417.62,645.67 418.52,643.97 419.44,642.19 420.38,640.31 421.33,638.31 422.31,636.18 423.30,633.90 424.34,631.37 425.45,628.55 426.61,625.51 427.80,622.33 428.99,619.10 430.16,615.89 431.28,612.77 432.35,609.83 433.33,607.15 434.20,604.80 434.93,602.76 435.51,600.94 435.99,599.31 436.40,597.84 436.78,596.50 437.17,595.26 437.59,594.11 438.10,592.99 438.72,591.90 439.50,590.80 440.46,589.67 441.57,588.54 442.80,587.43 444.12,586.36 445.47,585.37 446.82,584.49 448.14,583.73 449.39,583.13 450.52,582.71 451.50,582.50 452.32,582.51 453.03,582.70 453.64,583.07 454.18,583.59 454.68,584.24 455.16,585.02 455.63,585.88 456.13,586.83 456.68,587.85 457.30,588.90 457.97,590.05 458.65,591.33 459.34,592.72 460.05,594.21 460.77,595.77 461.52,597.39 462.30,599.03 463.10,600.67 463.93,602.30 464.80,603.90 465.69,605.50 466.61,607.13 467.54,608.80 468.51,610.49 469.50,612.18 470.52,613.87 471.58,615.53 472.68,617.17 473.82,618.76 475.00,620.30 476.24,621.82 477.56,623.34 478.92,624.86 480.33,626.36 481.77,627.82 483.22,629.23 484.67,630.57 486.11,631.82 487.53,632.97 488.90,634.00 490.23,634.88 491.52,635.61 492.80,636.22 494.06,636.75 495.32,637.21 496.59,637.63 497.88,638.06 499.21,638.51 500.58,639.01 502.00,639.60 503.48,640.26 505.01,640.96 506.59,641.69 508.19,642.44 509.82,643.20 511.46,643.96 513.11,644.71 514.75,645.44 516.39,646.14 518.00,646.80 519.60,647.43 521.20,648.05 522.80,648.65 524.40,649.23 526.00,649.80 527.60,650.35 529.20,650.89 530.80,651.41 532.40,651.91 534.00,652.40 535.60,652.87 537.20,653.32 538.80,653.74 540.40,654.15 542.00,654.55 543.60,654.93 545.20,655.31 546.80,655.68 548.40,656.04 550.00,656.40 551.56,656.75 553.07,657.09 554.55,657.43 556.02,657.75 557.50,658.06 559.02,658.37 560.61,658.68 562.29,658.99 564.08,659.29 566.00,659.60 568.02,659.90 570.09,660.20 572.22,660.49 574.42,660.78 576.71,661.06 579.11,661.35 581.62,661.65 584.27,661.95 587.05,662.27 590.00,662.60 593.15,662.95 596.50,663.33 600.03,663.72 603.69,664.12 607.46,664.52 611.30,664.93 615.16,665.32 619.03,665.70 622.85,666.07 626.60,666.40 630.23,666.71 633.76,667.01 637.24,667.29 640.71,667.56 644.21,667.82 647.81,668.08 651.53,668.32 655.44,668.55 659.58,668.78 664.00,669.00 668.92,669.22 674.41,669.43 680.30,669.64 686.42,669.84 692.59,670.04 698.63,670.22 704.36,670.39 709.62,670.54 714.23,670.68 718.00,670.80 720.96,670.90 723.28,670.98 725.06,671.04 726.40,671.08 727.37,671.11 728.08,671.14 728.60,671.15 729.04,671.17 729.48,671.18 730.00,671.20" stroke="#0000ff" stroke-width="5.40"/>
<polyline points="270.00,756.50 282.00,751.00 310.70,738.00 342.70,723.50 364.50,713.50 423.40,680.70 439.70,673.30 440.19,673.11 440.76,672.88 441.41,672.60 442.16,672.29 442.99,671.95 443.93,671.59 444.96,671.20 446.10,670.81 447.34,670.41 448.70,670.00 450.21,669.57 451.88,669.09 453.68,668.58 455.60,668.05 457.61,667.51 459.67,666.98 461.77,666.47 463.87,666.00 465.96,665.57 468.00,665.20 470.06,664.89 472.20,664.61 474.40,664.37 476.62,664.15 478.84,663.97 481.02,663.81 483.15,663.66 485.19,663.53 487.12,663.41 488.90,663.30 490.44,663.20 491.72,663.12 492.81,663.05 493.79,663.00 494.76,662.96 495.77,662.94 496.93,662.94 498.30,662.94 499.96,662.97 502.00,663.00 504.43,663.05 507.19,663.11 510.21,663.19 513.44,663.29 516.82,663.39 520.29,663.51 523.80,663.65 527.30,663.79 530.71,663.94 534.00,664.10 537.24,664.28 540.53,664.48 543.85,664.70 547.18,664.93 550.50,665.17 553.78,665.41 556.99,665.65 560.11,665.88 563.12,666.10 566.00,666.30 568.67,666.49 571.11,666.66 573.39,666.83 575.57,666.99 577.71,667.15 579.88,667.30 582.13,667.45 584.52,667.60 587.13,667.75 590.00,667.90 593.15,668.05 596.50,668.19 600.03,668.33 603.69,668.47 607.46,668.61 611.30,668.74 615.16,668.88 619.03,669.02 622.85,669.16 626.60,669.30 630.23,669.44 633.76,669.59 637.24,669.73 640.71,669.87 644.21,670.01 647.81,670.16 651.53,670.31 655.44,670.47 659.58,670.63 664.00,670.80 668.92,670.99 674.41,671.19 680.30,671.41 686.42,671.64 692.59,671.87 698.63,672.09 704.36,672.30 709.62,672.49 714.23,672.66 718.00,672.80 720.96,672.91 723.28,672.99 725.06,673.05 726.40,673.09 727.37,673.12 728.08,673.15 728.60,673.16 729.04,673.17 729.48,673.18 730.00,673.20" stroke="#008000" stroke-width="5.40"/>
<circle cx="365.00" cy="709.00" r="7.60" fill="#0000ff"/><circle cx="423.00" cy="634.20" r="7.60" fill="#0000ff"/><circle cx="440.00" cy="581.10" r="7.60" fill="#0000ff"/><circle cx="445.10" cy="568.20" r="7.60" fill="#0000ff"/><circle cx="448.00" cy="568.20" r="7.60" fill="#0000ff"/><circle cx="488.90" cy="634.00" r="7.60" fill="#0000ff"/>
<circle cx="364.50" cy="713.50" r="7.60" fill="#008000"/><circle cx="423.40" cy="680.70" r="7.60" fill="#008000"/><circle cx="439.70" cy="673.30" r="7.60" fill="#008000"/><circle cx="448.70" cy="670.00" r="7.60" fill="#008000"/><circle cx="488.90" cy="663.30" r="7.60" fill="#008000"/>
</g>
<path d="M192.90 308.20V314.60M371.23 308.20V314.60M549.57 308.20V314.60M727.90 308.20V314.60M192.90 275.86H186.50M192.90 211.17H186.50M192.90 146.48H186.50M192.90 81.79H186.50M192.90 17.10H186.50M174.10 751.00V757.40M310.13 751.00V757.40M446.15 751.00V757.40M582.18 751.00V757.40M718.20 751.00V757.40M174.10 751.00H167.70M174.10 605.45H167.70M174.10 459.90H167.70" stroke="#000" stroke-width="1.70" fill="none"/>
<path d="M174.10 707.19H170.60M174.10 681.56H170.60M174.10 663.37H170.60M174.10 649.26H170.60M174.10 637.74H170.60M174.10 628.00H170.60M174.10 619.56H170.60M174.10 612.11H170.60M174.10 561.64H170.60M174.10 536.01H170.60M174.10 517.82H170.60M174.10 503.71H170.60M174.10 492.19H170.60M174.10 482.45H170.60M174.10 474.01H170.60M174.10 466.56H170.60" stroke="#000" stroke-width="1.20" fill="none"/>
<text class="s" x="110.30" y="288.46" font-family="'Liberation Sans', sans-serif" font-size="34.50">10</text><text x="148.50" y="276.06" font-family="'DejaVu Sans', sans-serif" font-size="22.80">−</text><text class="s" x="167.50" y="276.06" font-family="'Liberation Sans', sans-serif" font-size="24.15">2</text><text class="s" x="110.30" y="223.77" font-family="'Liberation Sans', sans-serif" font-size="34.50">10</text><text x="148.50" y="211.37" font-family="'DejaVu Sans', sans-serif" font-size="22.80">−</text><text class="s" x="167.50" y="211.37" font-family="'Liberation Sans', sans-serif" font-size="24.15">1</text><text class="s" x="129.20" y="159.08" font-family="'Liberation Sans', sans-serif" font-size="34.50">10</text><text class="s" x="167.50" y="146.68" font-family="'Liberation Sans', sans-serif" font-size="24.15">0</text><text class="s" x="129.20" y="94.39" font-family="'Liberation Sans', sans-serif" font-size="34.50">10</text><text class="s" x="167.50" y="81.99" font-family="'Liberation Sans', sans-serif" font-size="24.15">1</text><text class="s" x="129.20" y="29.70" font-family="'Liberation Sans', sans-serif" font-size="34.50">10</text><text class="s" x="167.50" y="17.30" font-family="'Liberation Sans', sans-serif" font-size="24.15">2</text>
<text class="s" x="110.40" y="763.60" font-family="'Liberation Sans', sans-serif" font-size="34.50">10</text><text class="s" x="148.70" y="751.20" font-family="'Liberation Sans', sans-serif" font-size="24.15">0</text><text class="s" x="110.40" y="618.05" font-family="'Liberation Sans', sans-serif" font-size="34.50">10</text><text class="s" x="148.70" y="605.65" font-family="'Liberation Sans', sans-serif" font-size="24.15">1</text><text class="s" x="110.40" y="472.50" font-family="'Liberation Sans', sans-serif" font-size="34.50">10</text><text class="s" x="148.70" y="460.10" font-family="'Liberation Sans', sans-serif" font-size="24.15">2</text>
<text class="tk s" x="192.50" y="345.20" text-anchor="middle" font-size="34.50">0.0</text>
<text class="tk s" x="370.83" y="345.20" text-anchor="middle" font-size="34.50">0.5</text>
<text class="tk s" x="549.17" y="345.20" text-anchor="middle" font-size="34.50">1.0</text>
<text class="tk s" x="727.50" y="345.20" text-anchor="middle" font-size="34.50">1.5</text>
<text class="tk s" x="173.70" y="788.00" text-anchor="middle" font-size="34.50">0.98</text>
<text class="tk s" x="309.73" y="788.00" text-anchor="middle" font-size="34.50">0.99</text>
<text class="tk s" x="445.75" y="788.00" text-anchor="middle" font-size="34.50">1.00</text>
<text class="tk s" x="581.78" y="788.00" text-anchor="middle" font-size="34.50">1.01</text>
<text class="tk s" x="717.80" y="788.00" text-anchor="middle" font-size="34.50">1.02</text>
<text transform="translate(413.72 388.85) scale(1.1800 1.0000)" font-family="'Liberation Serif', serif" font-style="italic" font-size="32.40">α</text><text transform="translate(436.90 396.71) skewX(-6.30) scale(1.0000 1.5500)" font-family="'Liberation Serif', serif" font-size="34.50">/</text><text transform="translate(452.32 388.85) scale(1.1800 1.0000)" font-family="'Liberation Serif', serif" font-style="italic" font-size="32.40">α</text><text class="s" x="473.50" y="376.45" font-family="'Liberation Sans', sans-serif" font-size="24.15">crit</text>
<text transform="translate(399.47 831.65) scale(1.1800 1.0000)" font-family="'Liberation Serif', serif" font-style="italic" font-size="32.40">α</text><text transform="translate(422.65 839.51) skewX(-6.30) scale(1.0000 1.5500)" font-family="'Liberation Serif', serif" font-size="34.50">/</text><text transform="translate(438.07 831.65) scale(1.1800 1.0000)" font-family="'Liberation Serif', serif" font-style="italic" font-size="32.40">α</text><text class="s" x="459.25" y="819.25" font-family="'Liberation Sans', sans-serif" font-size="24.15">crit</text>
<text transform="rotate(-90) translate(-246.65 97.10) scale(1.1500 1)" font-family="'Noto Serif CJK SC', serif" font-style="italic" font-size="30.50">τ</text><text class="s" transform="rotate(-90)" x="-228.55" y="102.15" font-family="'Liberation Sans', sans-serif" font-size="24.15">max</text><text class="s" transform="rotate(-90)" x="-173.20" y="96.60" font-family="'Liberation Sans', sans-serif" font-size="34.50">[days]</text>
<text transform="rotate(-90) translate(-689.45 97.10) scale(1.1500 1)" font-family="'Noto Serif CJK SC', serif" font-style="italic" font-size="30.50">τ</text><text class="s" transform="rotate(-90)" x="-671.35" y="102.15" font-family="'Liberation Sans', sans-serif" font-size="24.15">max</text><text class="s" transform="rotate(-90)" x="-616.00" y="96.60" font-family="'Liberation Sans', sans-serif" font-size="34.50">[days]</text>
<text class="rm" x="-1.40" y="43.40" font-size="38.00">(a)</text>
<text class="rm" x="-1.40" y="492.80" font-size="38.00">(b)</text>
<line x1="211.80" y1="47.40" x2="265.80" y2="47.40" stroke="#0000ff" stroke-width="5.40"/><text transform="translate(282.26 56.40) scale(1.0800 1.0000)" font-family="'Liberation Serif', serif" font-style="italic" font-size="24.40">v</text><text class="s" x="293.35" y="59.80" font-family="'Liberation Sans', sans-serif" font-size="16.45">eff</text><text class="s" transform="translate(319.80 56.38) scale(1.0400 0.7200)" font-family="'Liberation Sans', sans-serif" font-size="23.50">=</text><text class="s" x="340.10" y="56.40" font-family="'Liberation Sans', sans-serif" font-size="23.50">0</text><line x1="211.80" y1="81.60" x2="265.80" y2="81.60" stroke="#008000" stroke-width="5.40"/><text transform="translate(282.26 90.60) scale(1.0800 1.0000)" font-family="'Liberation Serif', serif" font-style="italic" font-size="24.40">v</text><text class="s" x="293.35" y="94.00" font-family="'Liberation Sans', sans-serif" font-size="16.45">eff</text><text x="320.10" y="93.65" font-family="'Liberation Serif', serif" font-size="28.50">&gt;</text><text class="s" x="344.60" y="90.60" font-family="'Liberation Sans', sans-serif" font-size="23.50">0</text>
<line x1="550.20" y1="490.20" x2="604.20" y2="490.20" stroke="#0000ff" stroke-width="5.40"/><text transform="translate(620.66 499.20) scale(1.0800 1.0000)" font-family="'Liberation Serif', serif" font-style="italic" font-size="24.40">v</text><text class="s" x="631.75" y="502.60" font-family="'Liberation Sans', sans-serif" font-size="16.45">eff</text><text class="s" transform="translate(658.20 499.18) scale(1.0400 0.7200)" font-family="'Liberation Sans', sans-serif" font-size="23.50">=</text><text class="s" x="678.50" y="499.20" font-family="'Liberation Sans', sans-serif" font-size="23.50">0</text><line x1="550.20" y1="524.40" x2="604.20" y2="524.40" stroke="#008000" stroke-width="5.40"/><text transform="translate(620.66 533.40) scale(1.0800 1.0000)" font-family="'Liberation Serif', serif" font-style="italic" font-size="24.40">v</text><text class="s" x="631.75" y="536.80" font-family="'Liberation Sans', sans-serif" font-size="16.45">eff</text><text x="658.50" y="536.45" font-family="'Liberation Serif', serif" font-size="28.50">&gt;</text><text class="s" x="683.00" y="533.40" font-family="'Liberation Sans', sans-serif" font-size="23.50">0</text>
</svg></body></html>
